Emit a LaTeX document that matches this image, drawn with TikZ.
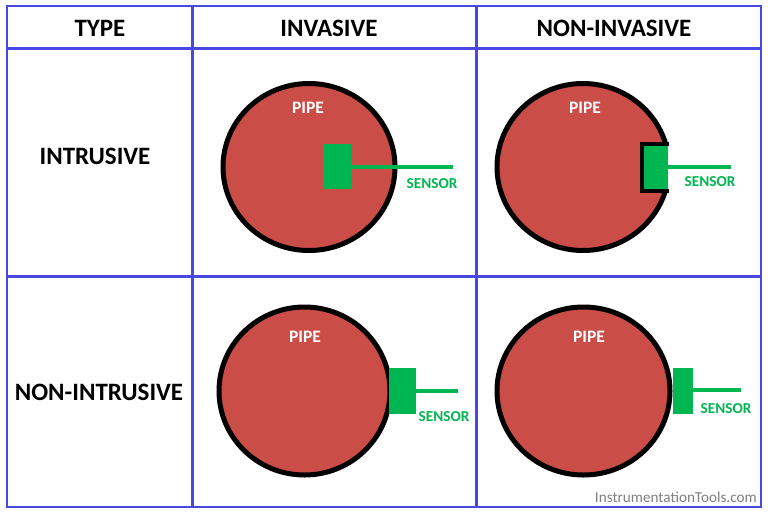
\documentclass[tikz,border=0pt]{standalone}
\usepackage{fontspec}
\setmainfont{Carlito}
\begin{document}
\begin{tikzpicture}[x=1pt,y=-1pt,
  grid/.style={draw=gridblue,line width=2.6pt},
  pipe/.style={fill=pipered,draw=black,line width=5pt},
  sens/.style={fill=sensgreen,draw=none},
  lead/.style={draw=sensgreen,line width=4pt},
  head/.style={font=\fontsize{25}{27}\selectfont\bfseries,text=black,inner sep=0pt},
  pipelbl/.style={font=\fontsize{17.5}{19}\selectfont\bfseries,text=white,inner sep=0pt},
  senslbl/.style={font=\fontsize{15.2}{17}\selectfont\bfseries,text=sensgreen,inner sep=0pt},
]
\definecolor{gridblue}{RGB}{72,72,228}
\definecolor{pipered}{RGB}{203,77,71}
\definecolor{sensgreen}{RGB}{0,182,80}
\useasboundingbox (0,0) rectangle (768,517);
\fill[white] (0,0) rectangle (768,517);
% table grid
\draw[grid] (7,6) rectangle (761,507);
\draw[grid] (7,48.5) -- (761,48.5);
\draw[grid] (7,276.5) -- (761,276.5);
\draw[grid] (192.5,6) -- (192.5,507);
\draw[grid] (476.5,6) -- (476.5,507);
% header texts
\node[head] (hType) at (100,28) {TYPE};
\node[head] (hInv) at (329,28) {INVASIVE};
\node[head] (hNon) at (614,28) {NON-INVASIVE};
\node[head] (rIntr) at (95,156) {INTRUSIVE};
\node[head] (rNonIntr) at (99,392) {NON-INTRUSIVE};
% cell 1: intrusive / invasive
\draw[pipe] (309,167) ellipse [x radius=86,y radius=83.5];
\fill[sens] (323,144) rectangle (351,189);
\draw[lead] (351,167) -- (453,167);
\node[pipelbl] (p1) at (308,108) {PIPE};
\node[senslbl] (s1) at (432,184) {SENSOR};
% cell 2: intrusive / non-invasive
\draw[pipe] (583,167) ellipse [x radius=86,y radius=83.5];
\fill[white] (668,140) rectangle (682,194);
\fill[sens] (642,144) rectangle (668,191);
\draw[black,line width=4pt] (668.5,144) -- (642,144) -- (642,191) -- (668.5,191);
\draw[lead] (668,167) -- (731,167);
\node[pipelbl] (p2) at (585,108) {PIPE};
\node[senslbl] (s2) at (710,182) {SENSOR};
% cell 3: non-intrusive / invasive
\draw[pipe] (304.5,391) ellipse [x radius=85.5,y radius=84];
\fill[sens] (389,368) rectangle (416,414);
\draw[lead] (416,391) -- (458,391);
\node[pipelbl] (p3) at (305,337) {PIPE};
\node[senslbl] (s3) at (444,417) {SENSOR};
% cell 4: non-intrusive / non-invasive
\draw[pipe] (583.5,391) ellipse [x radius=86.5,y radius=84];
\fill[sens] (673,368) rectangle (693,414);
\draw[lead] (693,390) -- (741,390);
\node[pipelbl] (p4) at (589,337) {PIPE};
\node[senslbl] (s4) at (726,409) {SENSOR};
% watermark
\node[font=\fontsize{15.2}{17}\selectfont,text=black!50,inner sep=0pt,anchor=east] (wm) at (757,497) {InstrumentationTools.com};
\end{tikzpicture}
\end{document}
